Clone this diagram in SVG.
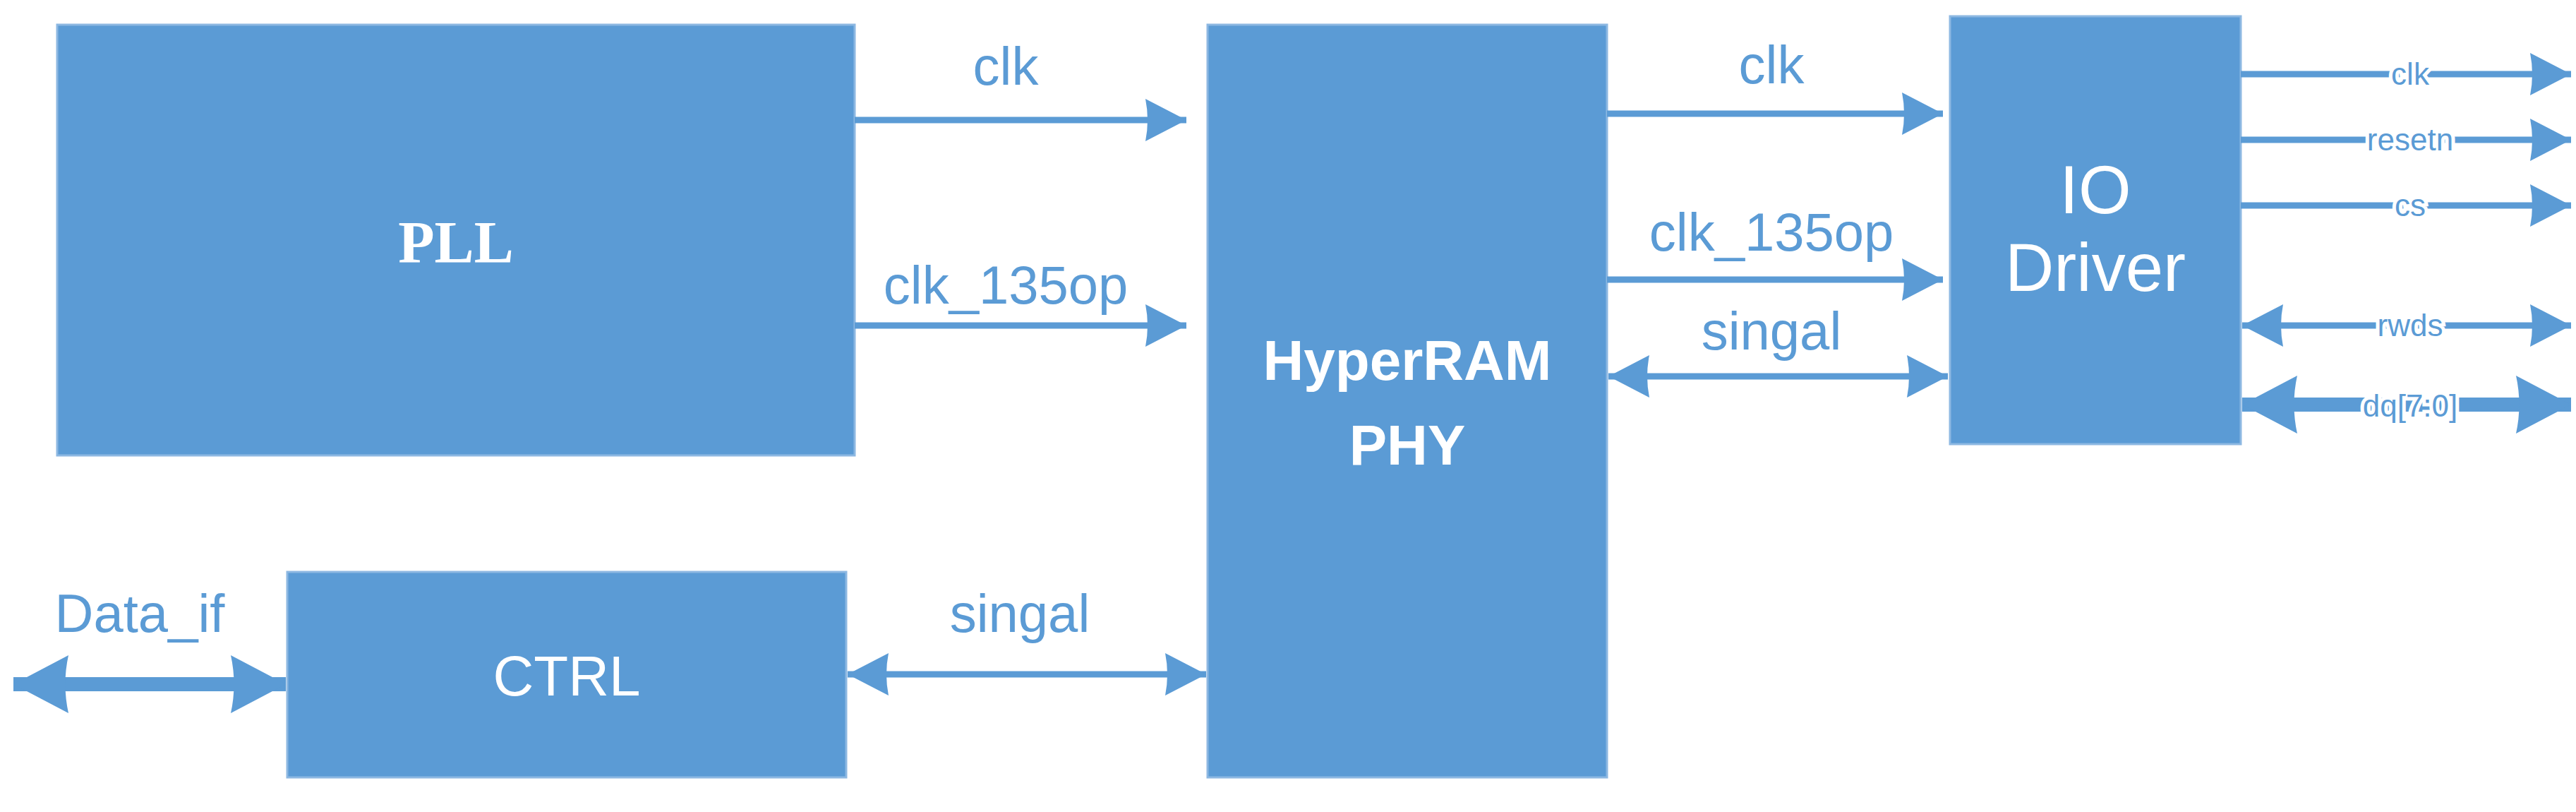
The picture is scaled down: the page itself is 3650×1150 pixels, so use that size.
<svg xmlns="http://www.w3.org/2000/svg" width="3650" height="1150" viewBox="0 0 3650 1150">
<style>
.box{fill:#5B9BD5;stroke:#8DB8E2;stroke-width:3}
.ln{stroke:#5B9BD5;stroke-width:9;fill:none}
.thick{stroke:#5B9BD5;stroke-width:20;fill:none}
.lbl{font-family:"Liberation Sans",Arial,sans-serif;font-size:76px;fill:#5B9BD5;text-anchor:middle}
.sm{font-family:"Liberation Sans",Arial,sans-serif;font-size:44px;fill:#5B9BD5;text-anchor:middle;stroke:#fff;stroke-width:10;paint-order:stroke}
.wt{font-family:"Liberation Sans",Arial,sans-serif;fill:#fff;text-anchor:middle}
</style>
<defs>
<marker id="ah" markerUnits="userSpaceOnUse" markerWidth="60" markerHeight="64" refX="58" refY="32" orient="auto-start-reverse" viewBox="0 0 60 64">
<path d="M0,2 L58,32 L0,62 Q6,32 0,2 Z" fill="#5B9BD5"/>
</marker>
<marker id="ahb" markerUnits="userSpaceOnUse" markerWidth="80" markerHeight="86" refX="78" refY="43" orient="auto-start-reverse" viewBox="0 0 80 86">
<path d="M0,2 L78,43 L0,84 Q9,43 0,2 Z" fill="#5B9BD5"/>
</marker>
</defs>
<g id="pll"><rect class="box" x="81" y="35" width="1130" height="610"/><text x="646" y="372" font-family="Liberation Serif,serif" font-weight="bold" font-size="84" fill="#fff" text-anchor="middle">PLL</text></g>
<g id="phy"><rect class="box" x="1711" y="35" width="566" height="1066"/><text class="wt" x="1994" y="538" font-size="80" font-weight="bold">HyperRAM</text><text class="wt" x="1994" y="658" font-size="80" font-weight="bold">PHY</text></g>
<g id="io"><rect class="box" x="2763" y="23" width="412" height="606"/><text class="wt" x="2969" y="302" font-size="96">IO</text><text class="wt" x="2969" y="412" font-size="96">Driver</text></g>
<g id="ctrl"><rect class="box" x="407" y="810" width="792" height="291"/><text class="wt" x="803" y="985" font-size="80">CTRL</text></g>
<g id="connectors">
<line class="ln" x1="1211" y1="170" x2="1681" y2="170" marker-end="url(#ah)"/>
<text class="lbl" x="1425" y="120">clk</text>
<line class="ln" x1="1211" y1="461" x2="1681" y2="461" marker-end="url(#ah)"/>
<text class="lbl" x="1425" y="430">clk_135op</text>
<line class="ln" x1="2277" y1="161" x2="2753" y2="161" marker-end="url(#ah)"/>
<text class="lbl" x="2510" y="118">clk</text>
<line class="ln" x1="2277" y1="396" x2="2753" y2="396" marker-end="url(#ah)"/>
<text class="lbl" x="2510" y="355">clk_135op</text>
<line class="ln" x1="2279" y1="533" x2="2760" y2="533" marker-start="url(#ah)" marker-end="url(#ah)"/>
<text class="lbl" x="2510" y="495">singal</text>
<line class="ln" x1="1201" y1="955" x2="1709" y2="955" marker-start="url(#ah)" marker-end="url(#ah)"/>
<text class="lbl" x="1445" y="895">singal</text>
<line class="thick" x1="19" y1="969" x2="405" y2="969" marker-start="url(#ahb)" marker-end="url(#ahb)"/>
<text class="lbl" x="198" y="895">Data_if</text>
<line class="ln" x1="3175" y1="105" x2="3643" y2="105" marker-end="url(#ah)"/>
<text class="sm" x="3415" y="120">clk</text>
<line class="ln" x1="3175" y1="198" x2="3643" y2="198" marker-end="url(#ah)"/>
<text class="sm" x="3415" y="213">resetn</text>
<line class="ln" x1="3175" y1="291" x2="3643" y2="291" marker-end="url(#ah)"/>
<text class="sm" x="3415" y="306">cs</text>
<line class="ln" x1="3177" y1="461" x2="3643" y2="461" marker-start="url(#ah)" marker-end="url(#ah)"/>
<text class="sm" x="3415" y="476">rwds</text>
<line class="thick" x1="3177" y1="573" x2="3643" y2="573" marker-start="url(#ahb)" marker-end="url(#ahb)"/>
<text class="sm" x="3415" y="590">dq[7:0]</text>
</g>
</svg>
